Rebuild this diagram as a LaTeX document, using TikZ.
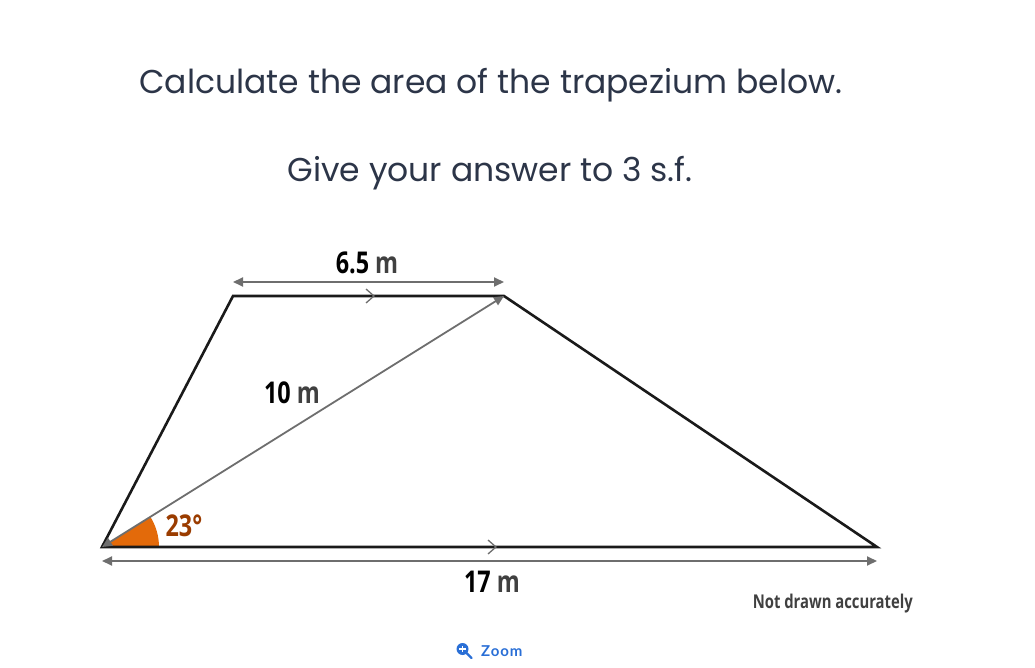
\documentclass[tikz,border=0pt]{standalone}
\usepackage{fontspec}
\usetikzlibrary{arrows.meta,calc}
\setmainfont{Lato}
\newfontfamily\titlefont{Poppins}
\newfontfamily\lab[FakeStretch=0.78]{Open Sans}
\newfontfamily\zoomfont[LetterSpace=6]{Lato}
\definecolor{titlec}{HTML}{2C3548}
\definecolor{edge}{HTML}{1A1A1A}
\definecolor{dimc}{HTML}{6E6E6E}
\definecolor{angfill}{HTML}{E36A0A}
\definecolor{angtext}{HTML}{9A3C00}
\definecolor{zoomc}{HTML}{2A6FD6}
\tikzset{
  edgeline/.style={draw=edge, line width=2.6pt, line join=miter},
  dimline/.style={draw=dimc, line width=1.8pt, {Triangle[length=10pt,width=9pt]}-{Triangle[length=10pt,width=9pt]}},
  tick/.style={draw=dimc, line width=1.3pt},
  title/.style={text=titlec, font=\titlefont\fontsize{33}{38}\selectfont, inner sep=0pt},
  lbl/.style={font=\lab\bfseries\fontsize{30}{32}\selectfont, inner sep=0pt},
}
\begin{document}
\begin{tikzpicture}[x=1pt,y=1pt]
\useasboundingbox (0,0) rectangle (1035,667);
% titles
\node[title] (t1) at (491,582) {Calculate the area of the trapezium below.};
\node[title] (t2) at (490,494) {Give your answer to 3 s.f.};
% vertices
\coordinate (A) at (102,120);
\coordinate (B) at (877,120);
\coordinate (C) at (233,371);
\coordinate (D) at (504,371);
% angle sector
\fill[angfill] (A) -- ++(57,0) arc (0:31.98:57) -- cycle;
% trapezium
\draw[edgeline] (A) -- (C) -- (D) -- (B) -- cycle;
% diagonal
\draw[dimline] (A) -- (D);
% dimension lines
\coordinate (TL) at (233,385);
\coordinate (TR) at (504,385);
\coordinate (BL) at (102,106);
\coordinate (BR) at (877,106);
\draw[dimline] (TL) -- (TR);
\draw[dimline] (BL) -- (BR);
% parallel marks
\coordinate (P1) at (374,371);
\coordinate (P2) at (496,120);
\draw[tick] ($(P1)+(-8,7)$) -- (P1) -- ($(P1)+(-8,-7)$);
\draw[tick] ($(P2)+(-8,7)$) -- (P2) -- ($(P2)+(-8,-7)$);
% labels
\node[lbl] (l65) at (367,404) {6.5 \textcolor{black!75}{m}};
\node[lbl] (l10) at (292,274) {10 \textcolor{black!75}{m}};
\node[lbl] (l17) at (492,85) {17 \textcolor{black!75}{m}};
\node[lbl, text=angtext] (l23) at (184,141) {23°};
\node[font=\lab\bfseries\fontsize{19}{21}\selectfont, text=black!75, anchor=east, inner sep=0pt] (nda) at (913,63) {Not drawn accurately};
% zoom
\node[font=\zoomfont\bfseries\fontsize{15}{17}\selectfont, text=zoomc, anchor=west, inner sep=0pt] (zm) at (481,16) {Zoom};
\coordinate (zi) at (462.5,18);
\fill[zoomc] (zi) circle (6);
\draw[zoomc, line width=2.2pt, line cap=round] ($(zi)+(4,-4)$) -- ($(zi)+(9,-9)$);
\draw[white, line width=1.3pt] ($(zi)+(-3.2,0)$) -- ($(zi)+(3.2,0)$) ($(zi)+(0,-3.2)$) -- ($(zi)+(0,3.2)$);
\end{tikzpicture}
\end{document}
